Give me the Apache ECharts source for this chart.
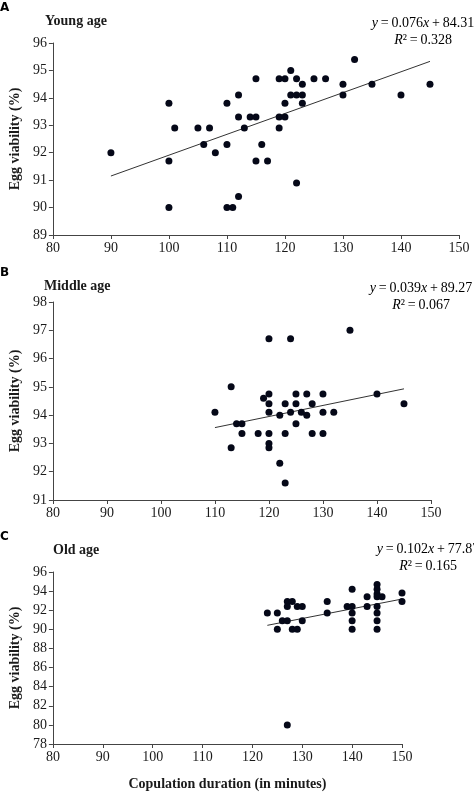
<!DOCTYPE html>
<html>
<head>
<meta charset="utf-8">
<script src="https://cdn.jsdelivr.net/npm/echarts@6/dist/echarts.min.js"></script>
<style>
  html, body { margin: 0; padding: 0; background: #fff; }
  #chart { width: 474px; height: 792px; }
</style>
</head>
<body>
<div id="chart"></div>
<script>
// Panel A - young age
const youngDuration = [90, 100, 100, 100, 101, 105, 107, 106, 108, 110, 110, 110, 111, 112, 112, 112, 113, 114, 115, 115, 115, 116, 117, 119, 119, 119, 120, 120, 120, 121, 121, 122, 122, 122, 123, 123, 123, 125, 127, 130, 130, 132, 135, 140, 145];
const youngViability = [92.0, 93.8, 91.7, 90.0, 92.9, 92.9, 92.9, 92.3, 92.0, 93.8, 92.3, 90.0, 90.0, 90.4, 94.1, 93.3, 92.9, 93.3, 93.3, 94.7, 91.7, 92.3, 91.7, 94.7, 93.3, 92.9, 94.7, 93.8, 93.3, 95.0, 94.1, 94.7, 94.1, 90.9, 94.5, 94.1, 93.8, 94.7, 94.7, 94.5, 94.1, 95.4, 94.5, 94.1, 94.5];
const youngTrend = [[90, 91.15], [145, 95.33]];

// Panel B - middle age
const middleDuration = [110, 113, 113, 114, 115, 115, 118, 119, 120, 120, 120, 120, 120, 120, 120, 122, 122, 123, 123, 123, 124, 124, 125, 125, 125, 126, 127, 127, 128, 128, 130, 130, 130, 132, 135, 140, 145];
const middleViability = [94.1, 95.0, 92.85, 93.7, 93.7, 93.35, 93.35, 94.6, 94.75, 96.7, 94.4, 94.1, 93.35, 93.0, 92.85, 94.0, 92.3, 94.4, 93.35, 91.6, 96.7, 94.1, 94.75, 94.4, 93.7, 94.1, 94.75, 94.0, 94.4, 93.35, 94.75, 94.1, 93.35, 94.1, 97.0, 94.75, 94.4];
const middleTrend = [[110, 93.56], [145, 94.93]];

// Panel C - old age
const oldDuration = [123, 125, 125, 126, 127, 127, 127, 127, 128, 128, 129, 129, 130, 130, 135, 135, 139, 140, 140, 140, 140, 140, 143, 143, 145, 145, 145, 145, 145, 145, 145, 145, 146, 150, 150];
const oldViability = [91.7, 91.7, 90.0, 90.9, 92.9, 92.4, 90.9, 80.0, 92.9, 90.0, 92.4, 90.0, 92.4, 90.9, 92.9, 91.7, 92.4, 94.2, 92.4, 91.7, 90.9, 90.0, 93.4, 92.4, 94.7, 94.2, 93.7, 93.4, 92.4, 91.7, 90.9, 90.0, 93.4, 93.8, 92.9];
const oldTrend = [[123, 90.42], [150, 93.17]];

const xTicks = { min: 80, max: 150, interval: 10 };
const yRanges = [
    { min: 89, max: 96, interval: 1 },
    { min: 91, max: 98, interval: 1 },
    { min: 78, max: 96, interval: 2 },
];

const zip = (xs, ys) => xs.map((x, i) => [x, ys[i]]);

const serif = 'Liberation Serif';
const ink = '#1a1a1a';
const dotColor = '#050818';

const grids = [
    { left: 46, top: 43, width: 413, height: 192 },
    { left: 46, top: 302, width: 385, height: 198 },
    { left: 46, top: 572, width: 356, height: 180 },
];

const axisLine = { lineStyle: { color: '#444', width: 1 } };
const axisTick = { inside: false, length: 4, lineStyle: { color: '#444' } };
const labelStyle = { fontFamily: serif, fontSize: 14, color: ink };

const xAxis = grids.map((g, i) => ({
    type: 'value',
    gridIndex: i,
    ...xTicks,
    axisLine: { show: true, ...axisLine },
    axisTick,
    splitLine: { show: false },
    axisLabel: { ...labelStyle, margin: 6 },
    name: i === 2 ? 'Copulation duration (in minutes)' : '',
    nameLocation: 'middle',
    nameGap: 33,
    nameTextStyle: { fontFamily: serif, fontSize: 14, fontWeight: 'bold', color: ink },
}));

const yAxis = grids.map((g, i) => ({
    type: 'value',
    gridIndex: i,
    ...yRanges[i],
    axisLine: { show: true, ...axisLine },
    axisTick,
    splitLine: { show: false },
    axisLabel: { ...labelStyle, margin: 6 },
    name: 'Egg viability (%)',
    nameLocation: 'middle',
    nameGap: 30,
    nameTextStyle: { fontFamily: serif, fontSize: 14, fontWeight: 'bold', color: ink },
}));

const scatter = (data, i) => ({
    type: 'scatter',
    xAxisIndex: i,
    yAxisIndex: i,
    data,
    symbol: 'circle',
    symbolSize: 7,
    itemStyle: { color: dotColor, opacity: 1 },
    z: 3,
});

const trend = (data, i) => ({
    type: 'line',
    xAxisIndex: i,
    yAxisIndex: i,
    data,
    symbol: 'none',
    lineStyle: { color: '#333', width: 1 },
    silent: true,
    z: 2,
});

const rich = {
    i: { fontFamily: serif, fontSize: 14, fontStyle: 'italic', color: ink },
    n: { fontFamily: serif, fontSize: 14, color: ink },
};

// thin spaces around operators, like the original typesetting
const equation = (cx, y, slope, icept, r2) => ({
    type: 'text',
    x: cx,
    y: y,
    style: {
        text: `{i|y}{n|\u2009=\u2009${slope}}{i|x}{n|\u2009+\u2009${icept}}\n{i|R}{n|²\u2009=\u2009${r2}}`,
        rich,
        align: 'center',
        verticalAlign: 'top',
        lineHeight: 17,
    },
});

const panelTitle = (letter, name, top, nameLeft) => [
    {
        text: letter,
        left: 0,
        top: top - 12,
        textStyle: { fontFamily: 'DejaVu Sans', fontSize: 12, fontWeight: 'bold', color: '#000' },
        padding: 0,
    },
    {
        text: name,
        left: nameLeft,
        top: top,
        textStyle: { fontFamily: serif, fontSize: 14, fontWeight: 'bold', color: ink },
        padding: 0,
    },
];

const chart = echarts.init(document.getElementById('chart'), null, { renderer: 'canvas' });

chart.setOption({
    backgroundColor: '#fff',
    animation: false,
    title: [
        ...panelTitle('A', 'Young age', 14, 45),
        ...panelTitle('B', 'Middle age', 279, 44),
        ...panelTitle('C', 'Old age', 543, 53),
    ],
    grid: grids,
    xAxis,
    yAxis,
    series: [
        scatter(zip(youngDuration, youngViability), 0),
        trend(youngTrend, 0),
        scatter(zip(middleDuration, middleViability), 1),
        trend(middleTrend, 1),
        scatter(zip(oldDuration, oldViability), 2),
        trend(oldTrend, 2),
    ],
    graphic: [
        equation(423, 15, '0.076', '84.31', '0.328'),
        equation(421, 280, '0.039', '89.27', '0.067'),
        equation(428, 541, '0.102', '77.87', '0.165'),
    ],
});
</script>
</body>
</html>
